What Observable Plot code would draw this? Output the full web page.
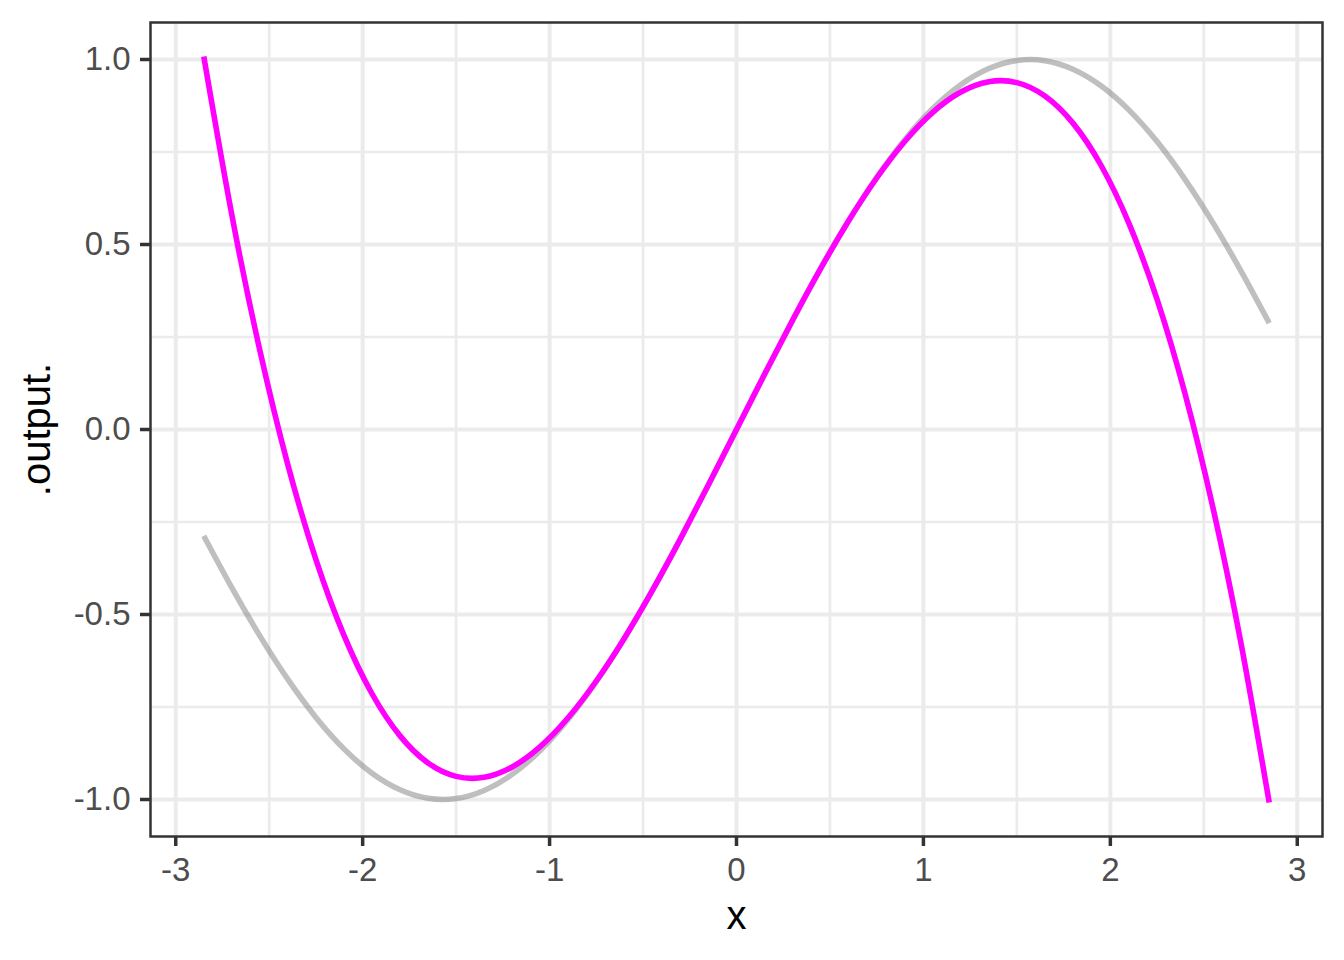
<!DOCTYPE html>
<html>
<head>
<meta charset="utf-8">
<script src="https://cdn.jsdelivr.net/npm/d3@7"></script>
<script src="https://cdn.jsdelivr.net/npm/@observablehq/plot@0.6"></script>
<style>
  html, body { margin: 0; padding: 0; background: #ffffff; }
  svg { display: block; }
</style>
</head>
<body>
<div id="chart"></div>
<script>
// x positions sampled along the curves
const xValues = [-2.85,-2.70,-2.55,-2.40,-2.25,-2.10,-1.95,-1.80,-1.65,-1.50,-1.35,-1.20,-1.05,-0.90,-0.75,-0.60,-0.45,-0.30,-0.15,0,
  0.15,0.30,0.45,0.60,0.75,0.90,1.05,1.20,1.35,1.50,1.65,1.80,1.95,2.10,2.25,2.40,2.55,2.70,2.85];
// grey curve values
const greyValues = [-0.2875,-0.4274,-0.5577,-0.6755,-0.7781,-0.8632,-0.9290,-0.9738,-0.9969,-0.9975,-0.9757,-0.9320,-0.8674,-0.7833,-0.6816,-0.5646,-0.4350,-0.2955,-0.1494,0,
  0.1494,0.2955,0.4350,0.5646,0.6816,0.7833,0.8674,0.9320,0.9757,0.9975,0.9969,0.9738,0.9290,0.8632,0.7781,0.6755,0.5577,0.4274,0.2875];
// magenta curve (.output.) values
const outputValues = [1.0082,0.5805,0.2136,-0.0960,-0.3516,-0.5565,-0.7142,-0.8280,-0.9013,-0.9375,-0.9399,-0.9120,-0.8571,-0.7785,-0.6797,-0.5640,-0.4348,-0.2955,-0.1494,0,
  0.1494,0.2955,0.4348,0.5640,0.6797,0.7785,0.8571,0.9120,0.9399,0.9375,0.9013,0.8280,0.7142,0.5565,0.3516,0.0960,-0.2136,-0.5805,-1.0082];

const xMajorTicks = [-3,-2,-1,0,1,2,3];
const xMinorTicks = [-2.5,-1.5,-0.5,0.5,1.5,2.5];
const yMajorTicks = [-1.0,-0.5,0.0,0.5,1.0];
const yMinorTicks = [-0.75,-0.25,0.25,0.75];
const xTitle = "x";
const yTitle = ".output.";

const greyData = xValues.map((x, i) => ({x, y: greyValues[i]}));
const outputData = xValues.map((x, i) => ({x, y: outputValues[i]}));

const gridColor = "#ebebeb";
const inkColor = "#333333";

const chart = Plot.plot({
  width: 1344,
  height: 960,
  marginLeft: 150,
  marginRight: 22,
  marginTop: 22,
  marginBottom: 124,
  style: {fontFamily: "'Liberation Sans', Arial, Helvetica, sans-serif", fontSize: "33px", background: "#ffffff"},
  x: {domain: [-3.135, 3.135], label: null},
  y: {domain: [-1.1, 1.1], label: null},
  marks: [
    Plot.ruleX(xMinorTicks, {stroke: gridColor, strokeWidth: 2.7}),
    Plot.ruleY(yMinorTicks, {stroke: gridColor, strokeWidth: 2.7}),
    Plot.ruleX(xMajorTicks, {stroke: gridColor, strokeWidth: 4}),
    Plot.ruleY(yMajorTicks, {stroke: gridColor, strokeWidth: 4}),
    Plot.line(greyData, {x: "x", y: "y", curve: "natural", stroke: "#7f7f7f", strokeOpacity: 0.5, strokeWidth: 5.6, strokeLinecap: "butt"}),
    Plot.line(outputData, {x: "x", y: "y", curve: "natural", stroke: "#ff00ff", strokeWidth: 5.6, strokeLinecap: "butt"}),
    Plot.frame({stroke: inkColor, strokeWidth: 2.5}),
    Plot.axisX(xMajorTicks, {tickSize: 10, tickPadding: 11, stroke: inkColor, strokeWidth: 3.5, fill: "#4d4d4d", fontSize: 33, tickFormat: d => String(d), label: null}),
    Plot.axisY(yMajorTicks, {tickSize: 10, tickPadding: 10, stroke: inkColor, strokeWidth: 3.5, fill: "#4d4d4d", fontSize: 33, tickFormat: d => d.toFixed(1), label: null}),
    Plot.text([xTitle], {text: d => d, frameAnchor: "bottom", dy: 80, lineAnchor: "middle", textAnchor: "middle", fontSize: 40, fill: "#000000"}),
    Plot.text([yTitle], {text: d => d, frameAnchor: "left", dx: -113, rotate: -90, lineAnchor: "middle", textAnchor: "middle", fontSize: 40, fill: "#000000"})
  ]
});
document.getElementById("chart").appendChild(chart);
</script>
</body>
</html>
